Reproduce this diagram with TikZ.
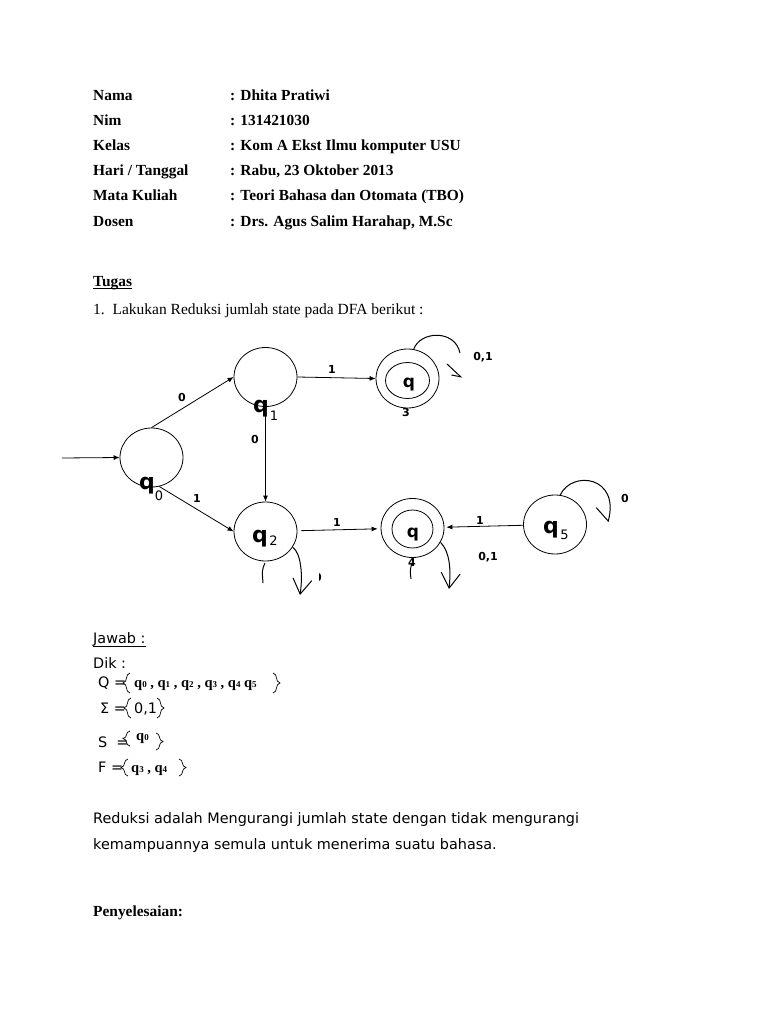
\documentclass[tikz,border=0pt]{standalone}
\usepackage{fontspec}
\setmainfont{Liberation Serif}
\setsansfont{DejaVu Sans}
\usetikzlibrary{arrows.meta,shapes.geometric,decorations.pathreplacing}

\newcommand{\setq}[1]{q{\fontsize{9}{9}\selectfont #1}}

\tikzset{
  state/.style={draw, ellipse, inner sep=0pt, minimum width=63pt, minimum height=59pt, line width=0.8pt},
  lbl/.style={inner sep=0pt, font=\sffamily\bfseries\fontsize{11}{11}\selectfont},
  qbig/.style={anchor=base, inner sep=0pt, font=\sffamily\bfseries\fontsize{22}{22}\selectfont},
  qmid/.style={anchor=base, inner sep=0pt, font=\sffamily\bfseries\fontsize{17}{17}\selectfont},
  qsub/.style={inner sep=0pt, font=\sffamily\fontsize{13}{13}\selectfont},
  arr/.style={-{Latex[length=6pt,width=5pt]}, line width=0.8pt},
  vee/.style={-{Straight Barb[length=15pt,width=19pt]}, line width=1pt},
  harp/.style={-{Straight Barb[right,length=8pt,width=10pt]}, line width=1pt},
  hdr/.style={anchor=base west, inner sep=0pt, font=\bfseries\fontsize{15.4}{15.4}\selectfont},
  body/.style={anchor=base west, inner sep=0pt, font=\sffamily\fontsize{14.4}{14.4}\selectfont},
  setn/.style={anchor=base west, inner sep=0pt, font=\bfseries\fontsize{14.5}{14.5}\selectfont},
  brc/.style={decorate, decoration={brace, amplitude=7pt}, line width=0.7pt}
}

\begin{document}
\begin{tikzpicture}[x=1pt, y=-1pt]
\useasboundingbox[fill=white] (0,0) rectangle (768,1024);

% header
\foreach \key/\val [count=\i] in {Nama/Dhita Pratiwi, Nim/131421030, Kelas/Kom A Ekst Ilmu komputer USU, {Hari / Tanggal}/{Rabu, 23 Oktober 2013}, {Mata Kuliah}/{Teori Bahasa dan Otomata (TBO)}, Dosen/{Drs. Agus Salim Harahap, M.Sc}} {
  \node[hdr] (key\i) at (93,76+25*\i) {\key};
  \node[hdr] (val\i) at (230,76+25*\i) {: \val};
}
\node[hdr] (tugas) at (93,286) {Tugas};
\draw[line width=0.8pt] ([yshift=-2pt]tugas.base west) -- ([yshift=-2pt]tugas.base east);
\node[hdr, font=\fontsize{15.5}{15.5}\selectfont] (soal) at (93,314) {1.\ \ Lakukan Reduksi jumlah state pada DFA berikut :};

% states
\node[state] (q0) at (151.5,457.5) {};
\node[state] (q1) at (265.5,377) {};
\node[state] (q2) at (265.5,531.5) {};
\node[state] (q3) at (407.5,378.5) {};
\node[state] (q4) at (412.5,528) {};
\node[state] (q5) at (555,524.5) {};
\draw[line width=0.8pt] ([yshift=-2pt]q3.center) ellipse (22 and 18);
\draw[line width=0.8pt] ([yshift=-1pt]q4.center) ellipse (20.5 and 19);

\node[qbig] (t0) at (147,489) {q};   \node[qsub] (s0) at (159,496) {0};
\node[qbig] (t1) at (261,412) {q};   \node[qsub] (s1) at (274,416) {1};
\node[qbig] (t2) at (260,542) {q};   \node[qsub] (s2) at (273.5,541) {2};
\node[qbig] (t5) at (551,533) {q};   \node[qsub] (s5) at (564.5,535) {5};
\node[qmid] (t3) at (409,387) {q};   \node[lbl] (s3) at (406,412) {3};
\node[qmid] (t4) at (413,537) {q};   \node[lbl] (s4) at (412,562) {4};

% transitions
\coordinate (start) at (62,458);
\draw[arr] (start) -- (q0.west);
\draw[arr] (q0.north) -- (q1.west);
\draw[arr] (q1.east) -- (q3.west);
\draw[arr] (q1.south) -- (q2.north);
\draw[arr] (q0.-75) -- (q2.west);
\draw[arr, shorten <=4pt, shorten >=3pt] (q2) -- (q4);
\draw[arr, shorten >=2pt] (q5) -- (q4);
\node[lbl] (e01) at (182,397) {0};
\node[lbl] (e13) at (332,369) {1};
\node[lbl] (e12) at (255,439) {0};
\node[lbl] (e02) at (197,498) {1};
\node[lbl] (e24) at (337,522) {1};
\node[lbl] (e54) at (480,520) {1};

% loops
\coordinate (l3) at (460,353);
\coordinate (l3a) at (447,364);
\coordinate (l3b) at (462,378);
\draw[line width=1pt] (q3.78) .. controls (420,331) and (455,329) .. (l3);
\draw[harp] (l3a) -- (l3b);
\node[lbl] (e33) at (483,357) {0,1};

\coordinate (l2) at (300,595);
\coordinate (c2a) at (265,563);
\coordinate (c2b) at (263,583);
\draw[vee] (q2.-30) .. controls (301,553) and (303,575) .. (l2);
\draw[line width=1pt] (c2a) .. controls (262,570) .. (c2b);
\begin{scope}
  \clip (319,565) rectangle (330,590);
  \node[lbl] (e22) at (318,577) {0};
\end{scope}

\coordinate (l4) at (449,589);
\coordinate (c4a) at (412,563);
\coordinate (c4b) at (411,579);
\draw[vee] (q4.-27) .. controls (450,552) and (451,570) .. (l4);
\draw[line width=1pt] (c4a) .. controls (410,570) .. (c4b);
\node[lbl] (e44) at (488,557) {0,1};

\coordinate (l5) at (608,522);
\draw[line width=1pt, -{Straight Barb[right,length=10pt,width=30pt]}] (q5.80) .. controls (572,470) and (620,476) .. (l5);
\node[lbl] (e55) at (625,498) {0};

% jawab
\node[body] (jawab) at (93,643) {Jawab :};
\draw[line width=0.8pt] ([yshift=-3pt]jawab.base west) -- ([yshift=-3pt]jawab.base east);
\node[body] (dik) at (93,668) {Dik :};
\node[body] (Qn) at (98,687) {Q =};
\node[setn] (Qv) at (134,687) {\setq{0} , \setq{1} , \setq{2} , \setq{3} , \setq{4} \setq{5}};
\draw[brc] (130,693) -- (130,673);
\draw[brc] (273,673) -- (273,693);
\node[body] (Sn) at (100,713) {Σ =};
\node[body] (Sv) at (134,713) {0,1};
\draw[brc] (131,718) -- (131,698);
\draw[brc] (157,698) -- (157,718);
\node[body] (Sa) at (98,747) {S\ \ =};
\node[setn] (Sav) at (136,740) {\setq{0}};
\draw[brc] (130,746) -- (130,731);
\draw[brc] (156,733) -- (156,750);
\node[body] (Fn) at (98,772) {F =};
\node[setn] (Fv) at (131,772) {\setq{3} , \setq{4}};
\draw[brc] (128,776) -- (128,759);
\draw[brc] (179,759) -- (179,776);

\node[body] (red1) at (93,823) {Reduksi adalah Mengurangi jumlah state dengan tidak mengurangi};
\node[body] (red2) at (93,849) {kemampuannya semula untuk menerima suatu bahasa.};
\node[hdr] (selesai) at (93,916) {Penyelesaian:};
\end{tikzpicture}
\end{document}
